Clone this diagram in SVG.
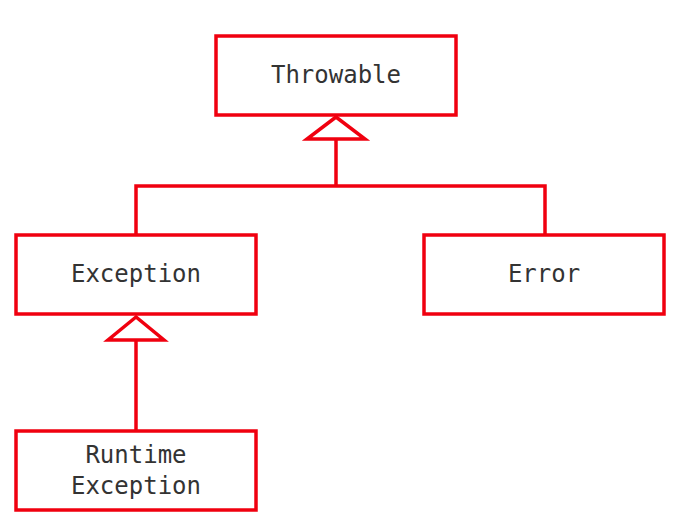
<svg xmlns="http://www.w3.org/2000/svg" width="675" height="525" viewBox="0 0 675 525">
<style>
rect{fill:#fff;stroke:#f0000f;stroke-width:3.5}
.c{fill:none;stroke:#f0000f;stroke-width:3.5}
.t{fill:#fff;stroke:#f0000f;stroke-width:3.5}
text{font-family:"DejaVu Sans Mono",monospace;font-size:24px;fill:#333;text-anchor:middle}
</style>
<rect width="675" height="525" style="stroke:none"/>
<g id="connectors">
<path class="c" d="M336 139V186M136 235V186H545V235"/>
<polygon class="t" points="336,117 307,139 365,139"/>
<path class="c" d="M136 340V431"/>
<polygon class="t" points="136,317 108,340 164,340"/>
</g>
<g id="throwable"><rect x="216" y="36" width="240" height="79"/><text x="336" y="83">Throwable</text></g>
<g id="exception"><rect x="16" y="235" width="240" height="79"/><text x="136" y="282">Exception</text></g>
<g id="error"><rect x="424" y="235" width="240" height="79"/><text x="544" y="282">Error</text></g>
<g id="runtime"><rect x="16" y="431" width="240" height="79"/><text x="136" y="463">Runtime</text><text x="136" y="494">Exception</text></g>
</svg>
